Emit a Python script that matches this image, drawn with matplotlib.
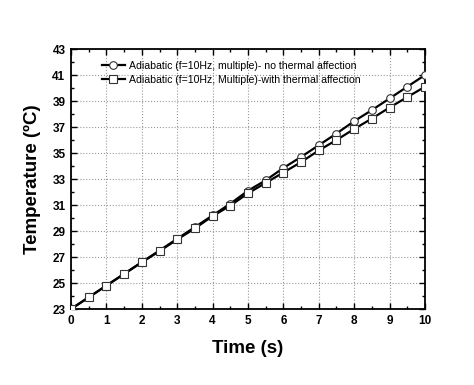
import numpy as np
import matplotlib.pyplot as plt
from matplotlib.ticker import MultipleLocator

plt.rcParams['font.family'] = ['Liberation Sans', 'DejaVu Sans']

# marker positions (every 0.5 s)
time_s = [0, 0.5, 1, 1.5, 2, 2.5, 3, 3.5, 4, 4.5, 5,
          5.5, 6, 6.5, 7, 7.5, 8, 8.5, 9, 9.5, 10]
temp_no_thermal = [23.0, 23.9, 24.8, 25.7, 26.6, 27.5, 28.4, 29.3, 30.2, 31.1, 32.1,
                   32.9, 33.85, 34.7, 35.6, 36.5, 37.45, 38.3, 39.2, 40.1, 41.0]
temp_with_thermal = [23.0, 23.9, 24.8, 25.7, 26.6, 27.45, 28.35, 29.2, 30.15, 30.95, 31.9,
                     32.7, 33.5, 34.3, 35.2, 36.0, 36.85, 37.65, 38.5, 39.3, 40.1]

lbl1 = 'Adiabatic (f=10Hz, multiple)- no thermal affection'
lbl2 = 'Adiabatic (f=10Hz, Multiple)-with thermal affection'

fig = plt.figure(figsize=(4.74, 3.85), dpi=100)
ax = fig.add_axes([0.1498, 0.1974, 0.7468, 0.6753])

ax.plot(time_s, temp_no_thermal, '-', color='black', lw=1.6, marker='o', ms=5.5,
        mfc='white', mec='#333333', mew=0.8, label=lbl1, zorder=3)
ax.plot(time_s, temp_with_thermal, '-', color='black', lw=1.6, marker='s', ms=5.5,
        mfc='white', mec='#333333', mew=0.8, label=lbl2, zorder=4)

ax.set_xlim(0, 10)
ax.set_ylim(23, 43)
ax.xaxis.set_major_locator(MultipleLocator(1))
ax.xaxis.set_minor_locator(MultipleLocator(0.5))
ax.yaxis.set_major_locator(MultipleLocator(2, offset=1))
ax.yaxis.set_minor_locator(MultipleLocator(1))
ax.tick_params(which='both', direction='in', top=True, right=True, width=1.0)
ax.tick_params(which='major', length=4, labelsize=8.5, pad=4)
ax.tick_params(which='minor', length=2)
for t in ax.get_xticklabels() + ax.get_yticklabels():
    t.set_fontweight('bold')
for s in ax.spines.values():
    s.set_linewidth(1.3)

ax.grid(True, which='major', color='#999999', ls=':', lw=0.8)

ax.set_xlabel('Time (s)', fontsize=13.5, fontweight='bold', labelpad=10)
ax.set_ylabel('Temperature (ºC)', fontsize=13.5, fontweight='bold', labelpad=8)

ax.legend(loc='upper left', bbox_to_anchor=(0.075, 0.97), frameon=False, fontsize=7.6,
          handlelength=2.2, handletextpad=0.4, borderaxespad=0, labelspacing=0.35)

fig.savefig('out.png', dpi=100)
